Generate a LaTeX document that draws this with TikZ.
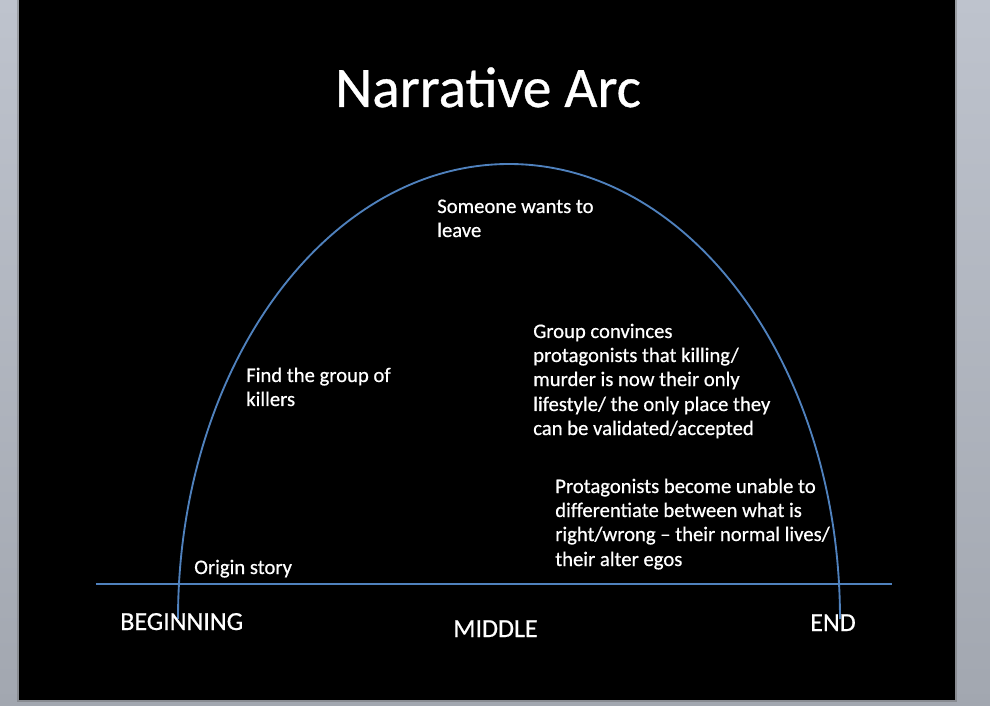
\documentclass[tikz,border=0pt]{standalone}
\usepackage{fontspec}
\setmainfont{Carlito}[FakeBold=0.6]
\definecolor{arcblue}{HTML}{4F81BD}
\definecolor{frametop}{HTML}{BEC3CD}
\definecolor{framebot}{HTML}{A2A7B0}
\begin{document}
\begin{tikzpicture}[x=0.75pt,y=-0.75pt,
  txt/.style={text=white,font=\fontsize{15.5pt}{18pt}\selectfont,anchor=base west,inner sep=0pt},
  lbl/.style={text=white,font=\fontsize{19.5pt}{23pt}\selectfont,anchor=base west,inner sep=0pt},
  arcline/.style={draw=arcblue,line width=1.4pt}]
\useasboundingbox (0,0) rectangle (990,706);
\shade[top color=frametop,bottom color=framebot] (0,0) rectangle (990,706);
\fill[gray!70!black,opacity=0.35] (17,0) rectangle (957,702);
\fill[black] (19,0) rectangle (955,700);
% title
\node[text=white,font=\fontsize{43pt}{50pt}\selectfont,anchor=base west,inner sep=0pt] (title) at (335,107) {Narrative Arc};
% axis and arc
\coordinate (axl) at (96,584);
\coordinate (axr) at (892,584);
\draw[arcline] (axl) -- (axr);
\coordinate (arcstart) at (178,619);
\draw[arcline] (arcstart) arc[start angle=180,end angle=360,x radius=331,y radius=455];
% texts
\node[txt] (t1a) at (437,213) {Someone wants to};
\node[txt] (t1b) at (437,237) {leave};
\node[txt] (t2a) at (246,382) {Find the group of};
\node[txt] (t2b) at (246,406) {killers};
\node[txt] (t3a) at (533,338) {Group convinces};
\node[txt] (t3b) at (533,362) {protagonists that killing/};
\node[txt] (t3c) at (533,386) {murder is now their only};
\node[txt] (t3d) at (533,411) {lifestyle/ the only place they};
\node[txt] (t3e) at (533,435) {can be validated/accepted};
\node[txt] (t4a) at (555,493) {Protagonists become unable to};
\node[txt] (t4b) at (555,517) {differentiate between what is};
\node[txt] (t4c) at (555,541) {right/wrong -- their normal lives/};
\node[txt] (t4d) at (555,566) {their alter egos};
\node[txt] (t5) at (194,574) {Origin story};
\node[lbl] (beg) at (120,630) {BEGINNING};
\node[lbl] (mid) at (453,637) {MIDDLE};
\node[lbl] (end) at (810,631) {END};
\end{tikzpicture}
\end{document}
